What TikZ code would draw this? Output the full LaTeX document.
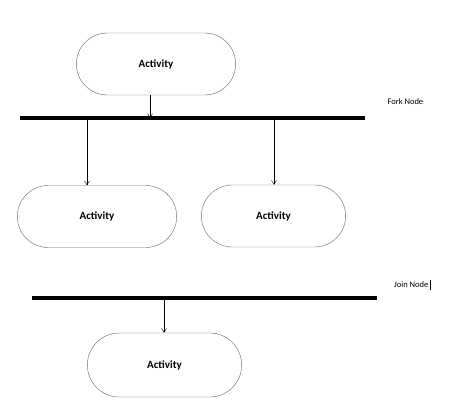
\documentclass[tikz,border=0pt]{standalone}
\usepackage{fontspec}
\setmainfont{Carlito}
\usetikzlibrary{shapes.misc,arrows.meta}
\begin{document}
\begin{tikzpicture}[x=1pt,y=-1pt,
  act/.style={draw=black!60,rounded rectangle,minimum height=62pt,font=\bfseries\fontsize{11}{13}\selectfont},
  bar/.style={line width=4.5pt},
  arr/.style={-{Straight Barb[length=4pt,width=5pt]},thin},
  lbl/.style={font=\fontsize{8.5}{10}\selectfont}]
\useasboundingbox (0,0) rectangle (474,412);
\node[act,minimum width=166pt] (a1) at (156,64) {Activity};
\draw[bar] (20,118) -- (365,118);
\coordinate (f1) at (150,118);
\coordinate (f2) at (87,118);
\coordinate (f3) at (274,118);
\node[act,minimum width=166pt] (a2) at (97,216.5) {Activity};
\node[act,minimum width=151pt] (a3) at (273.5,216) {Activity};
\draw[bar] (32,298) -- (377,298);
\coordinate (j1) at (164,298);
\node[act,minimum width=161pt,minimum height=64pt] (a4) at (164.5,365) {Activity};
\draw[arr] (a1.south -| f1) -- (f1);
\draw[arr] (f2) -- (f2 |- a2.north);
\draw[arr] (f3) -- (f3 |- a3.north);
\draw[arr] (j1) -- (j1 |- a4.north);
\node[lbl,anchor=west] (fn) at (384,102) {Fork Node};
\node[lbl,anchor=west,inner sep=1pt] (jn) at (393,285) {Join Node};
\draw[line width=1pt] (jn.east) ++(0.8,-5) -- ++(0,10);
\end{tikzpicture}
\end{document}
